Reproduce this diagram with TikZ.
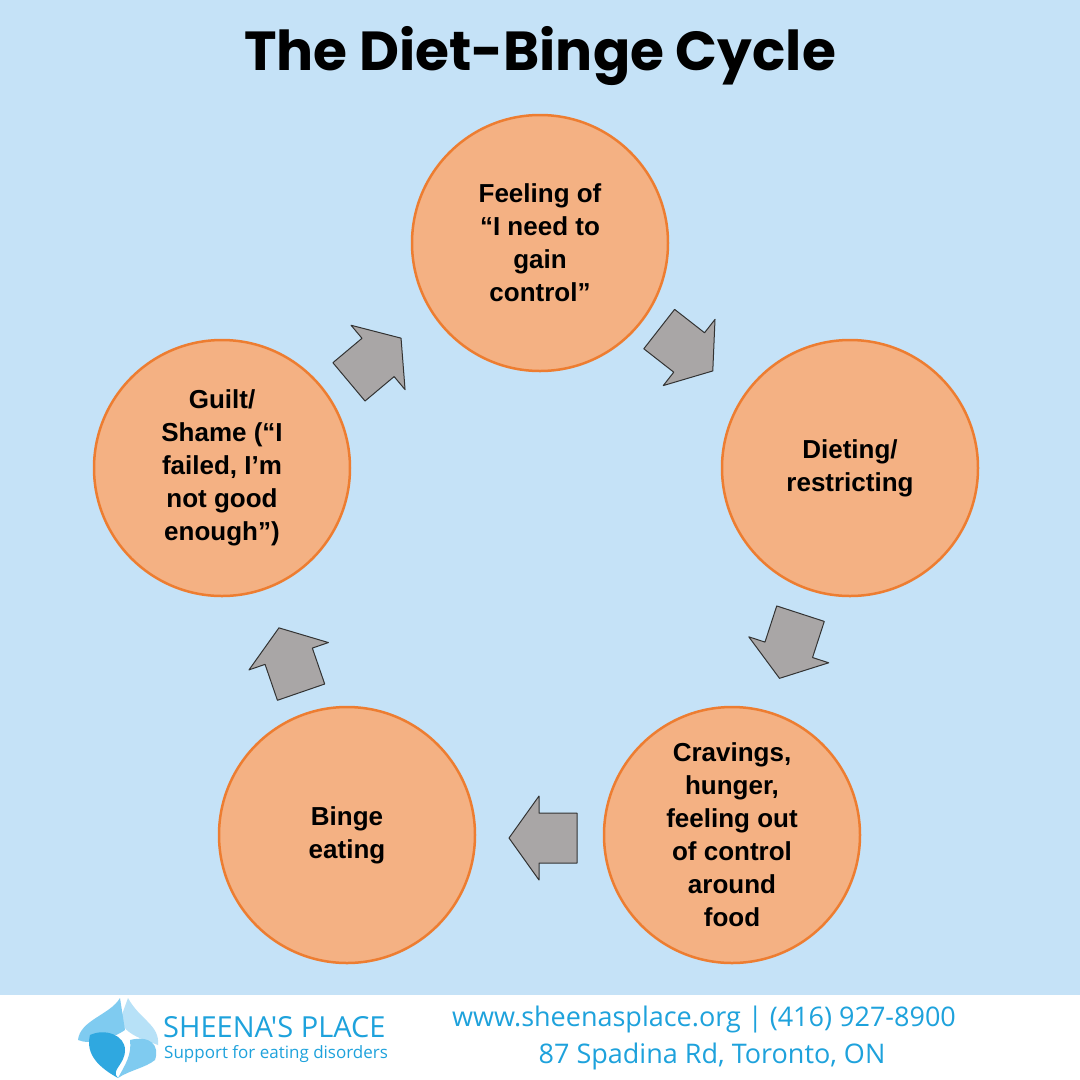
\documentclass[tikz,border=0pt]{standalone}
\usepackage{fontspec}
\setmainfont{Liberation Sans}
\newfontfamily\titlefont{Poppins}
\newfontfamily\footfont{Open Sans}
\definecolor{bg}{HTML}{C5E2F7}
\definecolor{cfill}{HTML}{F4B183}
\definecolor{cline}{HTML}{ED7D31}
\definecolor{agray}{HTML}{A9A6A6}
\definecolor{fblue}{HTML}{1EA2DC}
\definecolor{l1}{HTML}{7FCBF0}
\definecolor{l2}{HTML}{B7E1F7}
\definecolor{l3}{HTML}{2FA8E0}
\tikzset{
 stage/.style={circle,draw=cline,line width=2.5pt,fill=cfill,minimum size=256pt,inner sep=0pt,align=center,font=\fontsize{26}{33}\selectfont\bfseries},
 barrow/.style={fill=agray,draw=black!80,line width=1pt,line join=round},
}
\newcommand{\blockarrow}[3]{\path[barrow,shift={(#1,#2)},rotate=-#3] (34,0) -- (4,42) -- (4,25) -- (-34,25) -- (-34,-25) -- (4,-25) -- (4,-42) -- cycle;}
\begin{document}
\begin{tikzpicture}[x=1pt,y=-1pt]
\fill[bg] (0,0) rectangle (1080,995);
\fill[white] (0,995) rectangle (1080,1080);
\useasboundingbox (0,0) rectangle (1080,1080);
\node[font=\titlefont\bfseries\fontsize{55}{62}\selectfont] (title) at (540,56) {The Diet-Binge Cycle};
\node[stage] (top) at (540,243) {Feeling of\\``I need to\\gain\\control''};
\node[stage] (right) at (850,468) {Dieting/\\restricting};
\node[stage] (br) at (732,835) {Cravings,\\hunger,\\feeling out\\of control\\around\\food};
\node[stage] (bl) at (347,835) {Binge\\eating};
\node[stage] (left) at (222,468) {Guilt/\\Shame (``I\\failed, I'm\\not good\\enough'')};
\blockarrow{375}{360}{-40}
\blockarrow{686}{350}{38}
\blockarrow{790}{646}{108}
\blockarrow{543}{838}{180}
\blockarrow{290}{660}{251}
% logo
\fill[l2] (128,998) .. controls (140,1020) and (160,1025) .. (158,1045) .. controls (145,1040) and (125,1035) .. (120,1020) -- cycle;
\fill[l1] (120,998) .. controls (110,1015) and (80,1020) .. (78,1040) .. controls (90,1045) and (110,1040) .. (125,1030) -- cycle;
\fill[l3] (90,1035) .. controls (105,1028) and (125,1035) .. (125,1050) .. controls (125,1065) and (110,1070) .. (118,1078) .. controls (100,1068) and (85,1055) .. (90,1035) -- cycle;
\fill[l1] (130,1040) .. controls (150,1035) and (160,1045) .. (155,1060) .. controls (145,1068) and (130,1070) .. (118,1078) .. controls (125,1065) and (132,1055) .. (130,1040) -- cycle;
\node[font=\footfont\fontsize{29}{32}\selectfont,text=fblue,anchor=west,inner sep=0pt] (brand) at (163,1027) {SHEENA'S PLACE};
\node[font=\footfont\fontsize{17}{20}\selectfont,text=fblue,anchor=west,inner sep=0pt] (tag) at (164,1054) {Support for eating disorders};
\node[font=\footfont\fontsize{27}{30}\selectfont,text=fblue] (web) at (704,1019) {www.sheenasplace.org | (416) 927-8900};
\node[font=\footfont\fontsize{27}{30}\selectfont,text=fblue] (addr) at (712,1056) {87 Spadina Rd, Toronto, ON};
\end{tikzpicture}
\end{document}
